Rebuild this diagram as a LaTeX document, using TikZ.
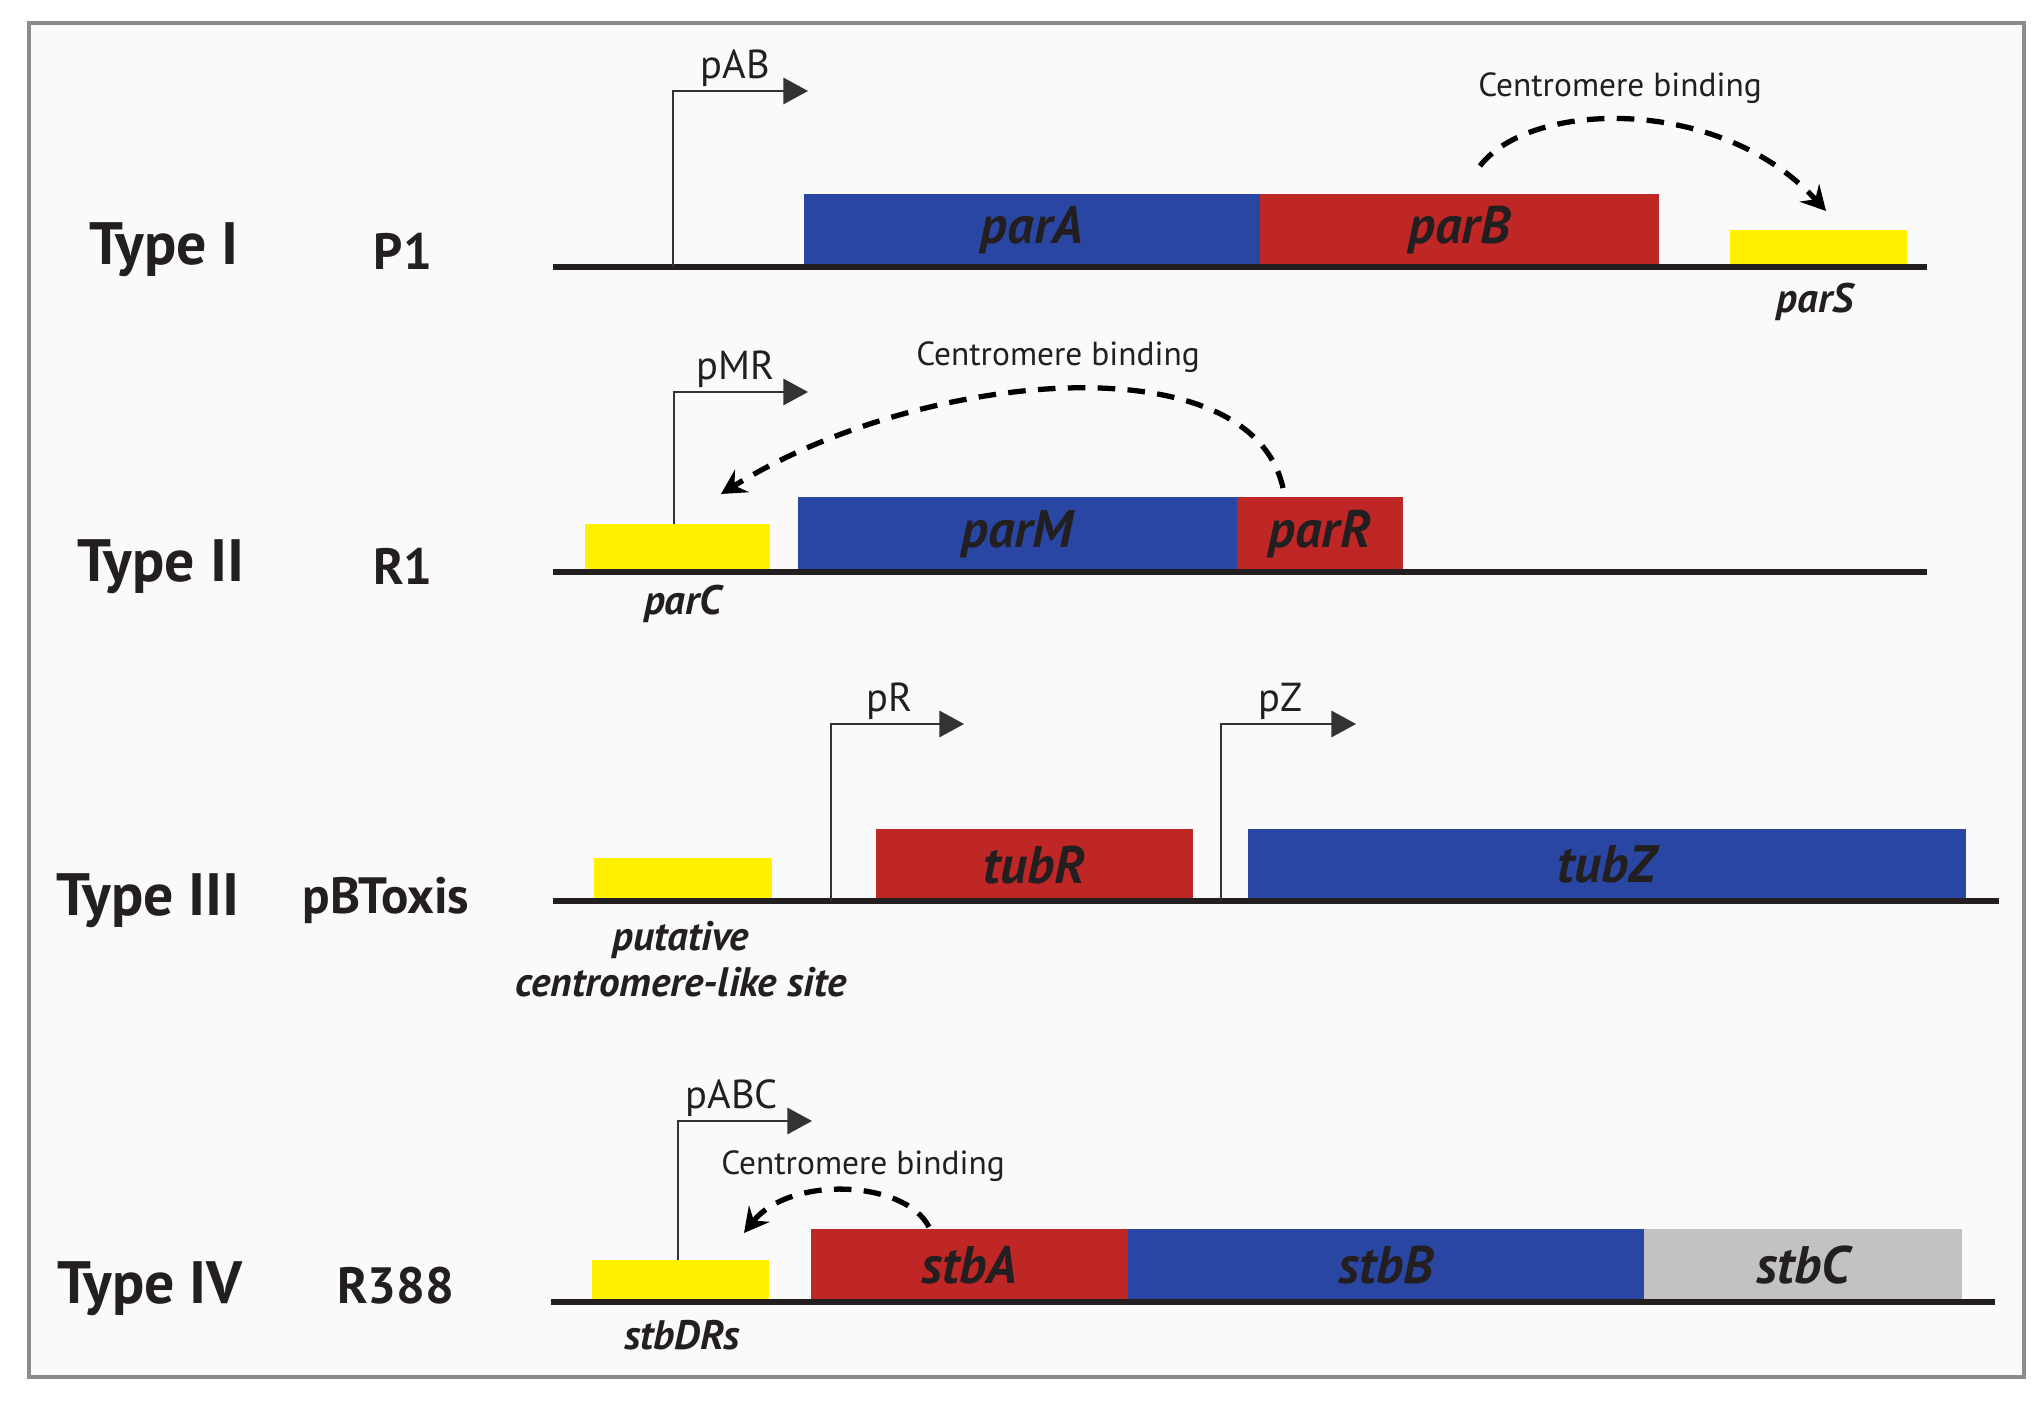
\documentclass[tikz,border=0pt]{standalone}
\usepackage{fontspec}
\setmainfont{PT Sans}
\usepackage[HTML]{xcolor}
\usetikzlibrary{positioning, arrows.meta}

\definecolor{geneblue}{HTML}{2A46A3}
\definecolor{genered}{HTML}{BE2726}
\definecolor{siteyellow}{HTML}{FFF100}
\definecolor{genegray}{HTML}{C2C2C2}
\definecolor{inkdark}{HTML}{231F20}
\definecolor{framegray}{HTML}{8C8C8C}

\tikzset{
    gene/.style={anchor=south west, inner sep=0pt, minimum height=0.72cm,
        font=\fontsize{15}{17}\selectfont\bfseries\itshape, text=inkdark},
    site/.style={anchor=south west, inner sep=0pt, fill=siteyellow},
    dna/.style={line width=1.5pt, draw=inkdark},
    promoter/.style={line width=0.5pt, draw=black!80, -{Triangle[length=7pt,width=7.5pt]}},
    binding/.style={line width=1.5pt, dash pattern=on 5pt off 3.5pt, -{Stealth[length=7pt,width=7.5pt,inset=2.5pt]}},
    typelabel/.style={anchor=base, font=\fontsize{17}{20}\selectfont\bfseries, text=inkdark},
    plasmid/.style={anchor=base, font=\fontsize{14.5}{17}\selectfont\bfseries, text=inkdark},
    sitelabel/.style={anchor=north, inner sep=1pt, align=center,
        font=\fontsize{11.7}{13.2}\selectfont\bfseries\itshape, text=inkdark},
    plabel/.style={font=\fontsize{11.5}{13}\selectfont, text=inkdark, inner sep=1pt},
    note/.style={font=\fontsize{9.5}{11}\selectfont, text=inkdark},
}

\begin{document}
\begin{tikzpicture}[x=0.01cm, y=-0.01cm]
    \useasboundingbox (0,0) rectangle (2036,1410);
    \draw[framegray, line width=1.4pt, fill=white!98!black] (29,23) rectangle (2024,1377);

    % Type I
    \node[typelabel] (typeI) at (164,265) {Type I};
    \node[plasmid] (P1) at (403,270) {P1};
    \node[gene, fill=geneblue, minimum width=4.56cm] (parA) at (803,267) {parA};
    \node[gene, fill=genered, minimum width=3.99cm] (parB) at (1259,267) {parB};
    \node[site, minimum width=1.77cm, minimum height=0.36cm] (parS) at (1729,267) {};
    \node[sitelabel] (parSlabel) at (1815,279) {parS};
    \coordinate (dnaIa) at (553,267);
    \coordinate (dnaIb) at (1927,267);
    \draw[dna] (dnaIa) -- (dnaIb);
    \coordinate (pABfoot) at (673,267);
    \coordinate (pABtip) at (808,91);
    \draw[promoter] (pABfoot) |- (pABtip) node[plabel, pos=0.73, above] {pAB};
    \coordinate (bindIa) at (1480,166);
    \coordinate (bindIb) at (1826,211);
    \draw[binding] (bindIa) .. controls (1530,100) and (1720,95) .. (bindIb);
    \node[note] (noteI) at (1620,88) {Centromere binding};

    % Type II
    \node[typelabel] (typeII) at (161,582) {Type II};
    \node[plasmid] (R1) at (403,585) {R1};
    \node[site, minimum width=1.85cm, minimum height=0.47cm] (parC) at (584,572) {};
    \node[sitelabel] (parClabel) at (683,581) {parC};
    \node[gene, fill=geneblue, minimum width=4.39cm, minimum height=0.74cm] (parM) at (797,572) {parM};
    \node[gene, fill=genered, minimum width=1.66cm, minimum height=0.74cm] (parR) at (1236,572) {parR};
    \coordinate (dnaIIa) at (553,572);
    \coordinate (dnaIIb) at (1927,572);
    \draw[dna] (dnaIIa) -- (dnaIIb);
    \coordinate (pMRtip) at (808,392);
    \draw[promoter] (parC.north) ++(-3,0) coordinate (pMRfoot) |- (pMRtip) node[plabel, pos=0.73, above] {pMR};
    \coordinate (bindIIa) at (1283,488);
    \coordinate (bindIIb) at (721,494);
    \draw[binding] (bindIIa) .. controls (1250,340) and (920,370) .. (bindIIb);
    \node[note] (noteII) at (1058,357) {Centromere binding};

    % Type III
    \node[typelabel] (typeIII) at (148,916) {Type III};
    \node[plasmid] (pBToxis) at (386,914) {pBToxis};
    \node[site, minimum width=1.78cm, minimum height=0.42cm] (clsite) at (593,901) {};
    \node[sitelabel] (clsitelabel) at (681,917) {putative\\centromere-like site};
    \node[gene, fill=genered, minimum width=3.17cm, minimum height=0.71cm] (tubR) at (875,901) {tubR};
    \node[gene, fill=geneblue, minimum width=7.18cm, minimum height=0.71cm] (tubZ) at (1247,901) {tubZ};
    \coordinate (dnaIIIa) at (553,901);
    \coordinate (dnaIIIb) at (1999,901);
    \draw[dna] (dnaIIIa) -- (dnaIIIb);
    \coordinate (pRfoot) at (831,901);
    \coordinate (pRtip) at (964,724);
    \draw[promoter] (pRfoot) |- (pRtip) node[plabel, pos=0.72, above] {pR};
    \coordinate (pZfoot) at (1221,901);
    \coordinate (pZtip) at (1356,724);
    \draw[promoter] (pZfoot) |- (pZtip) node[plabel, pos=0.72, above] {pZ};

    % Type IV
    \node[typelabel] (typeIV) at (150,1303) {Type IV};
    \node[plasmid] (R388) at (396,1303) {R388};
    \node[site, minimum width=1.77cm, minimum height=0.41cm] (stbDRs) at (591,1302) {};
    \node[sitelabel] (stbDRslabel) at (682,1316) {stbDRs};
    \node[gene, fill=genered, minimum width=3.17cm] (stbA) at (810,1302) {stbA};
    \node[gene, fill=geneblue, minimum width=5.16cm] (stbB) at (1127,1302) {stbB};
    \node[gene, fill=genegray, minimum width=3.18cm] (stbC) at (1643,1302) {stbC};
    \coordinate (dnaIVa) at (551,1302);
    \coordinate (dnaIVb) at (1995,1302);
    \draw[dna] (dnaIVa) -- (dnaIVb);
    \coordinate (pABCtip) at (812,1121);
    \draw[promoter] (stbDRs.north) ++(-2,0) coordinate (pABCfoot) |- (pABCtip) node[plabel, pos=0.7, above] {pABC};
    \coordinate (bindIVa) at (929,1227);
    \coordinate (bindIVb) at (744,1233);
    \draw[binding] (bindIVa) .. controls (905,1180) and (790,1175) .. (bindIVb);
    \node[note] (noteIV) at (863,1166) {Centromere binding};
\end{tikzpicture}
\end{document}
